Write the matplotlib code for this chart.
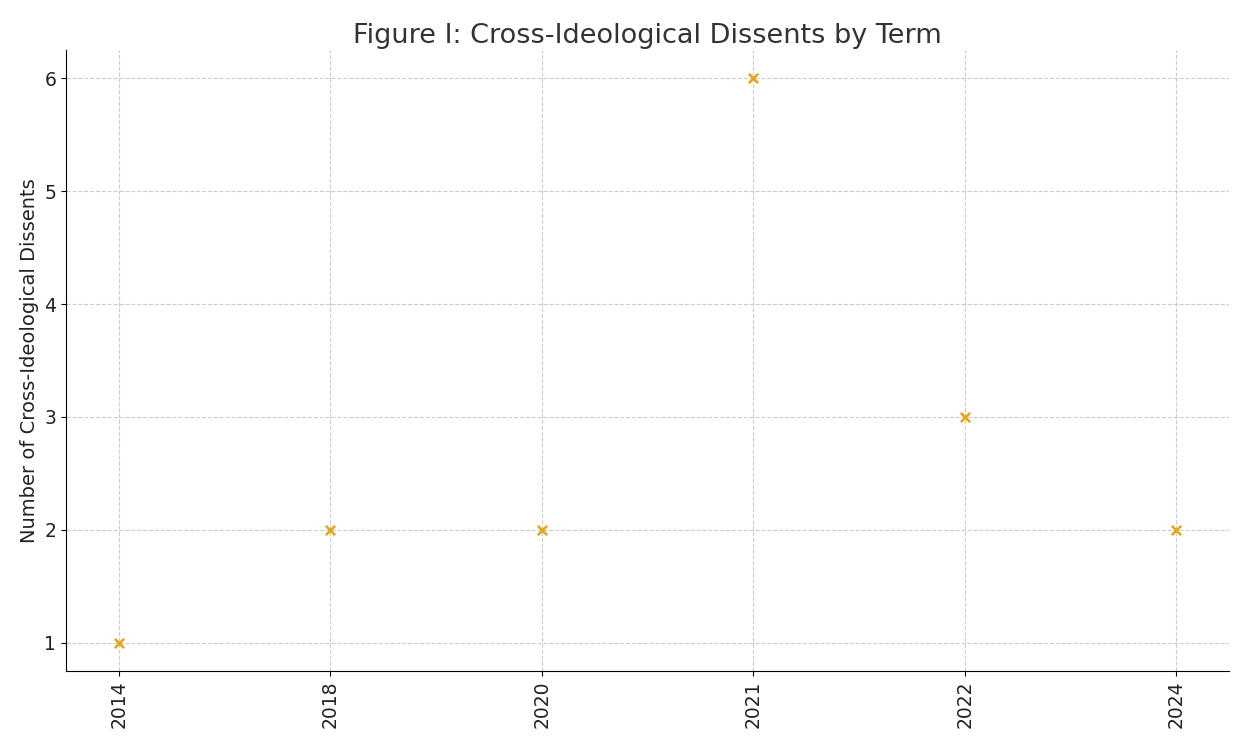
import matplotlib.pyplot as plt

terms = ['2014', '2018', '2020', '2021', '2022', '2024']
dissents = [1, 2, 2, 6, 3, 2]

fig = plt.figure(figsize=(12.48, 7.49), dpi=100)
ax = fig.add_axes([66/1248, 1 - 671/749, (1229-66)/1248, (671-50)/749])
ax.scatter(range(len(terms)), dissents, marker='x', color='#E8A317', s=45, linewidths=1.8, zorder=3)
ax.set_xticks(range(len(terms)))
ax.set_xticklabels(terms, rotation=90, fontsize=13.5, color='#222222')
ax.set_yticks([1, 2, 3, 4, 5, 6])
ax.tick_params(axis='y', labelsize=13.5, labelcolor='#222222')
ax.set_xlim(-0.25, 5.25)
ax.set_ylim(0.75, 6.25)
ax.grid(True, linestyle='--', color='#cccccc', linewidth=0.8)
ax.spines['top'].set_visible(False)
ax.spines['right'].set_visible(False)
ax.set_ylabel('Number of Cross-Ideological Dissents', fontsize=14, color='#222222')
ax.set_title('Figure I: Cross-Ideological Dissents by Term', fontsize=19.5, color='#333333', pad=5)
plt.savefig('out.png')
